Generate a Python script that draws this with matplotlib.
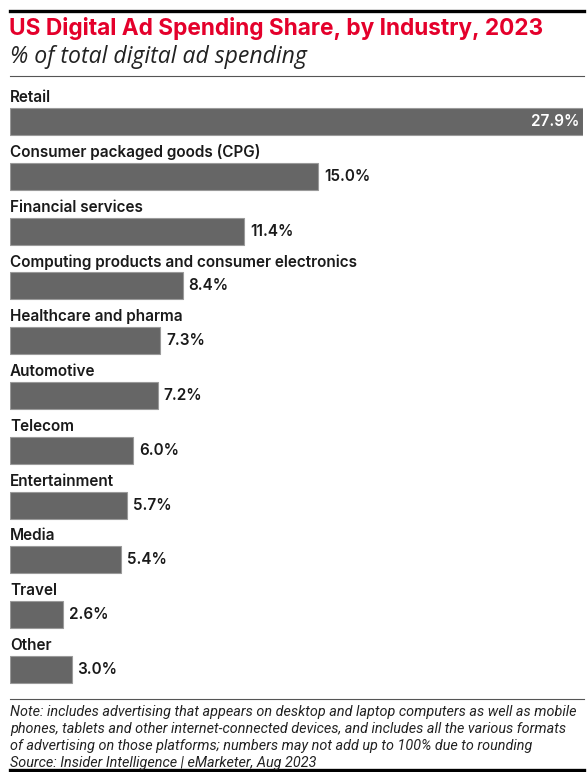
import matplotlib.pyplot as plt

categories = [
    "Retail",
    "Consumer packaged goods (CPG)",
    "Financial services",
    "Computing products and consumer electronics",
    "Healthcare and pharma",
    "Automotive",
    "Telecom",
    "Entertainment",
    "Media",
    "Travel",
    "Other",
]
shares = [27.9, 15.0, 11.4, 8.4, 7.3, 7.2, 6.0, 5.7, 5.4, 2.6, 3.0]

title = "US Digital Ad Spending Share, by Industry, 2023"
subtitle = "% of total digital ad spending"
note = ("Note: includes advertising that appears on desktop and laptop computers as well as mobile\n"
        "phones, tablets and other internet-connected devices, and includes all the various formats\n"
        "of advertising on those platforms; numbers may not add up to 100% due to rounding\n"
        "Source: Insider Intelligence | eMarketer, Aug 2023")

W, H = 587, 772
BAR_COLOR = "#666666"
RED = "#e4002b"


def fx(px):
    return px / W


def fy(py):
    return 1 - py / H


fig = plt.figure(figsize=(W / 100, H / 100), dpi=100)
fig.patch.set_facecolor("white")

# rules
fig.add_artist(plt.Line2D([fx(10), fx(584)], [fy(11), fy(11)], color="black", lw=2.4))
fig.add_artist(plt.Line2D([fx(10), fx(584)], [fy(76), fy(76)], color="#555555", lw=0.8))
fig.add_artist(plt.Line2D([fx(10), fx(584)], [fy(699), fy(699)], color="#555555", lw=0.8))
fig.add_artist(plt.Line2D([fx(10), fx(584)], [fy(770), fy(770)], color="black", lw=2.4))

fig.text(fx(9), fy(28), title, color=RED, fontsize=16.3, fontweight="bold",
         family="Inter", va="center", ha="left")
fig.text(fx(10), fy(57), subtitle, color="#222222", fontsize=16.6, style="italic",
         family="Open Sans", va="center", ha="left")
fig.text(fx(10), fy(705), note, color="#222222", fontsize=10.4, style="italic",
         family="Roboto", va="top", ha="left", linespacing=1.26)

# bar area: slot i centred at 121.5 + 54.8*i px
top_px = 121.5 - 0.5 * 54.8
bot_px = 121.5 + 10.5 * 54.8
ax = fig.add_axes([fx(10), fy(bot_px), fx(583) - fx(10), (bot_px - top_px) / H])
ax.set_xlim(0, shares[0])
ax.set_ylim(len(categories) - 0.5, -0.5)
ax.axis("off")

ys = range(len(categories))
ax.barh(ys, shares, height=0.49, color=BAR_COLOR, edgecolor="#9a9a9a", linewidth=0.8)

for i, (cat, val) in enumerate(zip(categories, shares)):
    ax.annotate(cat, (0, i), xytext=(0, 24), textcoords="offset pixels",
                ha="left", va="center", fontsize=11, fontweight="semibold",
                family="Inter", color="#1a1a1a")
    if i == 0:
        ax.annotate(f"{val:.1f}%", (val, i), xytext=(-4, 0), textcoords="offset pixels",
                    ha="right", va="center", fontsize=11, fontweight="semibold",
                    family="Inter", color="white")
    else:
        ax.annotate(f"{val:.1f}%", (val, i), xytext=(6, 0), textcoords="offset pixels",
                    ha="left", va="center", fontsize=11, fontweight="semibold",
                    family="Inter", color="#1a1a1a")

fig.savefig("out.png", dpi=100)
